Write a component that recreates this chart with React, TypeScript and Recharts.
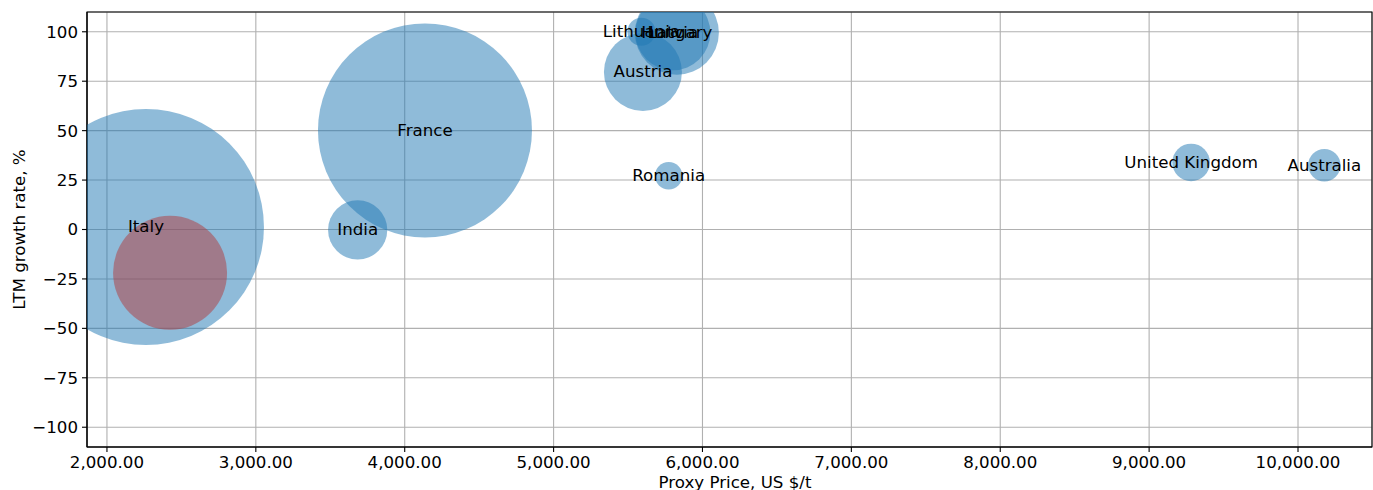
import React from 'react';
import {
  ScatterChart,
  Scatter,
  XAxis,
  YAxis,
  ZAxis,
  CartesianGrid,
  ReferenceArea,
} from 'recharts';

// ---- data ----
const countries = ['Italy', 'France', 'India', 'Austria', 'Romania', 'United Kingdom', 'Australia', 'Lithuania', 'Hungary', 'Latvia'];
const proxyPrices = [2262, 4136, 3684, 5600, 5773, 9282, 10177, 5590, 5828, 5801];
const growthRates = [1.3, 50.1, -0.2, 79.7, 27.2, 33.9, 32.5, 100, 99.5, 99.5];
const volumes = [13924, 11449, 876, 1521, 188, 353, 262, 196, 1764, 1406];

const highlightPrices = [2424];
const highlightGrowth = [-21.9];
const highlightVolumes = [3249];

const xTicks = [2000, 3000, 4000, 5000, 6000, 7000, 8000, 9000, 10000];
const yTicks = [-100, -75, -50, -25, 0, 25, 50, 75, 100];
const xDomain = [1866, 10497];
const yDomain = [-110, 110];
const zDomain = [0, 14000];

const xLabel = 'Proxy Price, US $/t';
const yLabel = 'LTM growth rate, %';

const mainData = countries.map((c, i) => ({ name: c, x: proxyPrices[i], y: growthRates[i], z: volumes[i] }));
const highlightData = highlightPrices.map((p, i) => ({ x: p, y: highlightGrowth[i], z: highlightVolumes[i] }));

const FONT = '"DejaVu Sans", sans-serif';
const FS = 16.67;

const fmtX = (v: number) =>
  v.toLocaleString('en-US', { minimumFractionDigits: 2, maximumFractionDigits: 2 });
const fmtY = (v: number) => String(v).replace('-', '\u2212');

const Bubble = (color: string, opacity: number) => (props: any) => {
  const r = (props.width || 0) / 2;
  return <circle cx={props.cx} cy={props.cy} r={r} fill={color} fillOpacity={opacity} stroke="none" />;
};

const LabelShape = (props: any) => (
  <text
    x={props.cx}
    y={props.cy}
    textAnchor="middle"
    dominantBaseline="central"
    fontFamily={FONT}
    fontSize={FS}
    fill="#000"
  >
    {props.payload.name}
  </text>
);

export default function App() {
  return (
    <div style={{ position: 'absolute', left: 0, top: 0, width: 1373, height: 490, background: '#fff' }}>
      <ScatterChart width={1373} height={490} margin={{ top: 12, right: 1, bottom: 0, left: 0 }}>
        <CartesianGrid stroke="#b0b0b0" strokeWidth={1.1} />
        <XAxis
          type="number"
          dataKey="x"
          domain={xDomain}
          ticks={xTicks}
          interval={0}
          allowDataOverflow
          tickFormatter={fmtX}
          height={43}
          tickSize={5}
          tickMargin={4}
          stroke="#000"
          axisLine={{ stroke: '#000', strokeWidth: 1.1 }}
          tickLine={{ stroke: '#000', strokeWidth: 1.1 }}
          tick={{ fill: '#000', fontFamily: FONT, fontSize: FS }}
          label={{
            content: () => (
              <text x={735} y={488} textAnchor="middle" fontFamily={FONT} fontSize={FS} fill="#000">
                {xLabel}
              </text>
            ),
          }}
        />
        <YAxis
          type="number"
          dataKey="y"
          domain={yDomain}
          ticks={yTicks}
          interval={0}
          allowDataOverflow
          tickFormatter={fmtY}
          width={87}
          tickSize={5}
          tickMargin={4}
          axisLine={{ stroke: '#000', strokeWidth: 1.1 }}
          tickLine={{ stroke: '#000', strokeWidth: 1.1 }}
          tick={{ fill: '#000', fontFamily: FONT, fontSize: FS }}
          label={{
            content: () => (
              <text
                x={19}
                y={229.5}
                transform="rotate(-90 19 229.5)"
                textAnchor="middle"
                dominantBaseline="central"
                fontFamily={FONT}
                fontSize={FS}
                fill="#000"
              >
                {yLabel}
              </text>
            ),
          }}
        />
        <ZAxis type="number" dataKey="z" domain={zDomain} range={[0, zDomain[1] * Math.PI]} />
        <Scatter data={mainData} isAnimationActive={false} shape={Bubble('#1f77b4', 0.5)} />
        <Scatter data={highlightData} isAnimationActive={false} shape={Bubble('rgb(177,57,59)', 0.5)} />
        <Scatter data={mainData} isAnimationActive={false} shape={LabelShape} />
        <ReferenceArea
          x1={xDomain[0]}
          x2={xDomain[1]}
          y1={yDomain[0]}
          y2={yDomain[1]}
          fill="none"
          fillOpacity={0}
          stroke="#000"
          strokeWidth={1.1}
          ifOverflow="visible"
        />
      </ScatterChart>
    </div>
  );
}
